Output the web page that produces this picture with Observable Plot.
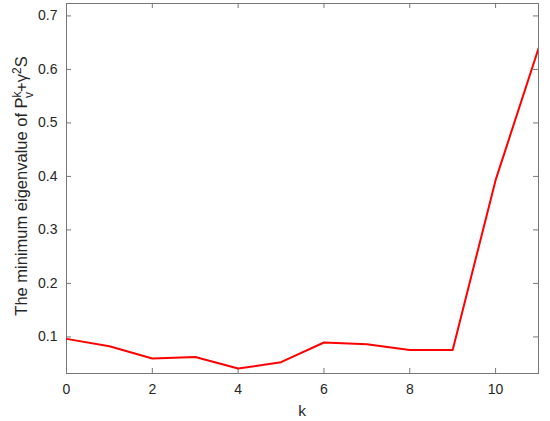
<!DOCTYPE html>
<html>
<head>
<meta charset="utf-8">
<script src="https://cdn.jsdelivr.net/npm/d3@7"></script>
<script src="https://cdn.jsdelivr.net/npm/@observablehq/plot@0.6"></script>
<style>
  body { margin: 0; background: #fff; }
  #chart { width: 550px; height: 421px; }
</style>
</head>
<body>
<div id="chart"></div>
<script>
const ks = [0, 1, 2, 3, 4, 5, 6, 7, 8, 9, 10, 11];
const minEig = [0.0963, 0.0826, 0.0596, 0.0626, 0.0409, 0.0527, 0.0895, 0.0864, 0.0757, 0.0757, 0.393, 0.639];
const xTicks = [0, 2, 4, 6, 8, 10];
const yTicks = [0.1, 0.2, 0.3, 0.4, 0.5, 0.6, 0.7];
const xDomain = [0, 11];
const yDomain = [0.0316, 0.7232];

const data = ks.map((k, i) => ({k, v: minEig[i]}));

const W = 550, H = 421;
const mL = 66, mR = 12, mT = 3, mB = 48;
const fw = W - mL - mR, fh = H - mT - mB;
const tl = 5;
const axisColor = "#777";
const textColor = "#262626";
const font = "Liberation Sans, Arial, sans-serif";

const plot = Plot.plot({
  width: W,
  height: H,
  marginLeft: mL,
  marginRight: mR,
  marginTop: mT,
  marginBottom: mB,
  style: {fontFamily: font, fontSize: "14px", color: textColor, background: "#fff"},
  x: {domain: xDomain, label: null},
  y: {domain: yDomain, label: null},
  marks: [
    Plot.axisX(xTicks, {tickSize: 0, tickPadding: 11, label: null, fontSize: 14, fill: textColor, tickFormat: d => String(d)}),
    Plot.axisY(yTicks, {tickSize: 0, tickPadding: 9, label: null, fontSize: 14, fill: textColor, tickFormat: d => d.toFixed(1)}),
    Plot.ruleX(xTicks, {x: d => d, insetTop: fh - tl, stroke: axisColor}),
    Plot.ruleX(xTicks, {x: d => d, insetBottom: fh - tl, stroke: axisColor}),
    Plot.ruleY(yTicks, {y: d => d, insetRight: fw - tl, stroke: axisColor}),
    Plot.ruleY(yTicks, {y: d => d, insetLeft: fw - tl, stroke: axisColor}),
    Plot.frame({stroke: axisColor, strokeWidth: 1}),
    Plot.line(data, {x: "k", y: "v", stroke: "#ff0000", strokeWidth: 2, clip: true})
  ]
});

const svg = d3.select(plot);
// x label
svg.append("text")
  .attr("x", mL + fw / 2)
  .attr("y", 416)
  .attr("text-anchor", "middle")
  .attr("font-size", 15.5)
  .attr("fill", textColor)
  .attr("font-family", font)
  .text("k");

// y label with sub/superscripts
const yl = svg.append("text")
  .attr("transform", `translate(27, ${mT + fh / 2 - 2}) rotate(-90)`)
  .attr("text-anchor", "middle")
  .attr("font-size", 16.5)
  .attr("fill", textColor)
  .attr("font-family", font);
yl.append("tspan").text("The minimum eigenvalue of P");
yl.append("tspan").attr("font-size", 12).attr("dy", -6).text("k");
yl.append("tspan").attr("font-size", 12).attr("dx", -6.5).attr("dy", 12).text("v");
yl.append("tspan").attr("dy", -6).text("+\u03b3");
yl.append("tspan").attr("font-size", 12).attr("dy", -6).text("2");
yl.append("tspan").attr("dy", 6).text("S");

document.getElementById("chart").appendChild(plot);
</script>
</body>
</html>
